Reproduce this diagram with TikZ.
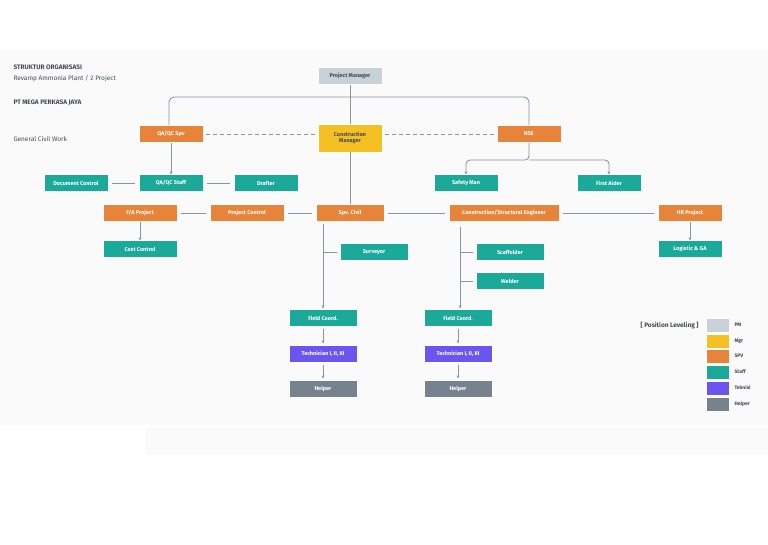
\documentclass[tikz,border=0pt]{standalone}
\usepackage{fontspec}
\setmainfont{Fira Sans}
\usetikzlibrary{arrows.meta}
\definecolor{cor}{HTML}{E8833A}\definecolor{cte}{HTML}{1BA99A}\definecolor{cye}{HTML}{F5C024}
\definecolor{cpm}{HTML}{C8D0D8}\definecolor{cpu}{HTML}{6A55F0}\definecolor{che}{HTML}{77828F}
\definecolor{cln}{HTML}{8A94A3}\definecolor{ctx}{HTML}{444A55}
\tikzset{
 box/.style={minimum height=17pt,inner sep=1pt,font=\fontsize{5.5}{6.5}\selectfont\bfseries,text=white,draw=white,line width=0.3pt},
 spv/.style={box,fill=cor}, stf/.style={box,fill=cte}, tek/.style={box,fill=cpu}, hlp/.style={box,fill=che},
 ln/.style={draw=cln,line width=0.9pt},
 ar/.style={ln,-{Stealth[length=3pt,width=3pt]}},
 gap/.style={ln,shorten >=4pt,shorten <=4pt},
 dsh/.style={ln,dash pattern=on 4pt off 3pt,shorten >=3pt,shorten <=3pt},
 sw/.style={minimum width=23pt,minimum height=14pt,inner sep=0pt,draw=white,line width=0.6pt},
 lg/.style={anchor=west,font=\fontsize{5}{6}\selectfont\bfseries,text=ctx}
}
\begin{document}
\begin{tikzpicture}[x=1pt,y=-1pt]
\useasboundingbox[fill=white] (0,0) rectangle (768,544);
\fill[black!2] (0,50) rectangle (768,425);
\fill[black!2] (145,428) rectangle (768,455);
\begin{scope}[text=ctx,anchor=west]
\node at (10,67) {\fontsize{6.5}{7}\selectfont\bfseries STRUKTUR ORGANISASI};
\node at (10,79) {\fontsize{6.5}{7}\selectfont Revamp Ammonia Plant / 2 Project};
\node at (10,103) {\fontsize{6.5}{7}\selectfont\bfseries PT MEGA PERKASA JAYA};
\node at (10,139) {\fontsize{6.5}{7}\selectfont General Civil Work};
\end{scope}
\node[box,fill=cpm,text=ctx,minimum width=64pt] (pm) at (350,76) {Project Manager};
\node[spv,minimum width=64pt] (qs) at (171,134) {QA/QC Spv};
\node[box,fill=cye,text=ctx,minimum width=64pt,minimum height=28pt,align=center] (cm) at (350,138) {Construction\\Manager};
\node[spv,minimum width=64pt] (hse) at (529,134) {HSE};
\node[stf,minimum width=64pt] (dc) at (76,183) {Document Control};
\node[stf,minimum width=64pt] (qst) at (171,183) {QA/QC Staff};
\node[stf,minimum width=64pt] (dr) at (266,183) {Drafter};
\node[stf,minimum width=64pt] (sm) at (466,183) {Safety Man};
\node[stf,minimum width=64pt] (fa) at (609,183) {First Aider};
\node[spv,minimum width=74pt] (fap) at (140,213) {F/A Project};
\node[spv,minimum width=74pt] (pc) at (247,213) {Project Control};
\node[spv,minimum width=68pt] (sc) at (350,213) {Spv. Civil};
\node[spv,minimum width=110pt] (cse) at (504,213) {Construction/Structural Engineer};
\node[spv,minimum width=64pt] (hr) at (690,213) {HR Project};
\node[stf,minimum width=74pt] (cc) at (140,249) {Cost Control};
\node[stf,minimum width=64pt] (lg) at (690,249) {Logistic \& GA};
\node[stf,minimum width=68pt] (sv) at (374,252) {Surveyor};
\node[stf,minimum width=68pt] (sf) at (510,252) {Scaffolder};
\node[stf,minimum width=68pt] (we) at (510,281) {Welder};
\node[stf,minimum width=68pt] (f1) at (323,318) {Field Coord.};
\node[stf,minimum width=68pt] (f2) at (458,318) {Field Coord.};
\node[tek,minimum width=68pt] (t1) at (323,354) {Technician I, II, III};
\node[tek,minimum width=68pt] (t2) at (458,354) {Technician I, II, III};
\node[hlp,minimum width=68pt] (h1) at (323,389) {Helper};
\node[hlp,minimum width=68pt] (h2) at (458,389) {Helper};
% connectors
\draw[ln] (pm) -- (cm);
\draw[ln,rounded corners=5pt] (qs.north -| 169,0) |- (350,97) -| (hse.north);
\draw[dsh] (qs.east) -- (qs.east -| cm.west); \draw[dsh] (hse.west -| cm.east) -- (hse.west);
\draw[ar] (qs) -- (qst);
\draw[gap] (dc) -- (qst); \draw[gap] (qst) -- (dr);
\coordinate (hj) at (529,160);
\draw[ar,rounded corners=4pt] (hse.south) -- (hj) -| (sm.north);
\draw[ar,rounded corners=4pt] (hj) -| (fa.north);
\draw[ln] (cm) -- (sc);
\draw[gap] (fap) -- (pc); \draw[gap] (pc) -- (sc); \draw[gap] (sc) -- (cse); \draw[gap] (cse) -- (hr);
\draw[ar] (fap) -- (cc); \draw[ar] (hr) -- (lg);
\coordinate (ta) at (323,224); \coordinate (tb) at (460,227);
\draw[ar,shorten >=1pt] (ta) -- (f1);
\draw[ln,shorten >=3pt] (323,252) -- (sv);
\draw[ar,shorten >=1pt] (tb) -- (f2.north -| tb);
\draw[ln,shorten >=3pt] (460,252) -- (sf);
\draw[ln,shorten >=3pt] (460,281) -- (we);
\draw[ar,shorten >=2pt,shorten <=2pt] (f1) -- (t1); \draw[ar,shorten >=2pt,shorten <=2pt] (t1) -- (h1);
\draw[ar,shorten >=2pt,shorten <=2pt] (f2) -- (t2); \draw[ar,shorten >=2pt,shorten <=2pt] (t2) -- (h2);
% legend
\node[anchor=east,text=ctx,font=\fontsize{6.5}{7}\selectfont\bfseries] (lt) at (702,326) {[ Position Leveling ]};
\foreach \c/\t/\y in {cpm/PM/325,cye/Mgr/341,cor/SPV/356,cte/Staff/372,cpu/Teknisi/388,che/Helper/404}{
 \node[sw,fill=\c] (s\t) at (718,\y) {};
 \node[lg] at (731,\y) {\t};
}
\end{tikzpicture}
\end{document}
